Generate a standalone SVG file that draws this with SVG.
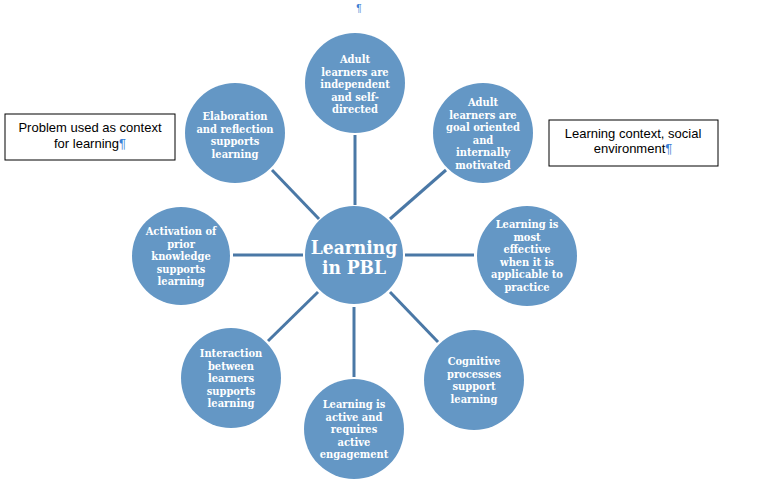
<svg xmlns="http://www.w3.org/2000/svg" width="772" height="495" viewBox="0 0 772 495">
<style>
.c{fill:#6497c5}
.t{font-family:"DejaVu Serif Condensed","Liberation Serif",serif;font-size:11px;font-weight:bold;fill:#fff;text-anchor:middle}
.big{font-size:19px}
.b{font-family:"Liberation Sans",Arial,sans-serif;font-size:13px;fill:#000;text-anchor:middle}
.p{fill:#3b7fd4}
.box{fill:#fff;stroke:#000;stroke-width:1}
line{stroke:#4a78a6;stroke-width:3}
</style>
<rect width="772" height="495" fill="#fff"/>
<text x="359" y="12" class="b p" style="font-size:10px">¶</text>
<g id="connectors">
<line x1="355" y1="135" x2="355" y2="205"/>
<line x1="272" y1="170" x2="319" y2="219"/>
<line x1="446" y1="170" x2="390" y2="219"/>
<line x1="233" y1="255" x2="303" y2="255"/>
<line x1="405" y1="255" x2="474" y2="255"/>
<line x1="268" y1="341" x2="318" y2="292"/>
<line x1="354" y1="307" x2="354" y2="377"/>
<line x1="390" y1="292" x2="438" y2="342"/>
</g>
<g id="box-left"><rect class="box" x="5" y="114" width="170" height="46"/>
<text class="b" x="90" y="132">Problem used as context</text><text class="b" x="90" y="148">for learning<tspan class="p">¶</tspan></text></g>
<g id="box-right"><rect class="box" x="549" y="120" width="169" height="46"/>
<text class="b" x="633" y="138">Learning context, social</text><text class="b" x="633" y="153">environment<tspan class="p">¶</tspan></text></g>
<g id="center"><circle class="c" cx="354" cy="255" r="49"/>
<text class="t big" x="354" y="254">Learning</text><text class="t big" x="354" y="274">in PBL</text></g>
<g id="n-top"><circle class="c" cx="355" cy="83" r="50"/>
<text class="t" x="355" y="63">Adult</text><text class="t" x="355" y="75.5">learners are</text><text class="t" x="355" y="88">independent</text><text class="t" x="355" y="100.5">and self-</text><text class="t" x="355" y="113">directed</text></g>
<g id="n-tl"><circle class="c" cx="235" cy="133" r="50"/>
<text class="t" x="235" y="120">Elaboration</text><text class="t" x="235" y="132.5">and reflection</text><text class="t" x="235" y="145">supports</text><text class="t" x="235" y="157.5">learning</text></g>
<g id="n-tr"><circle class="c" cx="483" cy="133" r="50"/>
<text class="t" x="483" y="106">Adult</text><text class="t" x="483" y="118.5">learners are</text><text class="t" x="483" y="131">goal oriented</text><text class="t" x="483" y="143.5">and</text><text class="t" x="483" y="156">internally</text><text class="t" x="483" y="168.5">motivated</text></g>
<g id="n-l"><circle class="c" cx="181" cy="256" r="49"/>
<text class="t" x="181" y="235">Activation of</text><text class="t" x="181" y="247.5">prior</text><text class="t" x="181" y="260">knowledge</text><text class="t" x="181" y="272.5">supports</text><text class="t" x="181" y="285">learning</text></g>
<g id="n-r"><circle class="c" cx="527" cy="256" r="50"/>
<text class="t" x="527" y="228">Learning is</text><text class="t" x="527" y="240.5">most</text><text class="t" x="527" y="253">effective</text><text class="t" x="527" y="265.5">when it is</text><text class="t" x="527" y="278">applicable to</text><text class="t" x="527" y="290.5">practice</text></g>
<g id="n-bl"><circle class="c" cx="231" cy="378" r="50"/>
<text class="t" x="231" y="357">Interaction</text><text class="t" x="231" y="369.5">between</text><text class="t" x="231" y="382">learners</text><text class="t" x="231" y="394.5">supports</text><text class="t" x="231" y="407">learning</text></g>
<g id="n-b"><circle class="c" cx="354" cy="429" r="50"/>
<text class="t" x="354" y="408">Learning is</text><text class="t" x="354" y="420.5">active and</text><text class="t" x="354" y="433">requires</text><text class="t" x="354" y="445.5">active</text><text class="t" x="354" y="458">engagement</text></g>
<g id="n-br"><circle class="c" cx="474" cy="380" r="50"/>
<text class="t" x="474" y="365">Cognitive</text><text class="t" x="474" y="377.5">processes</text><text class="t" x="474" y="390">support</text><text class="t" x="474" y="402.5">learning</text></g>
</svg>
